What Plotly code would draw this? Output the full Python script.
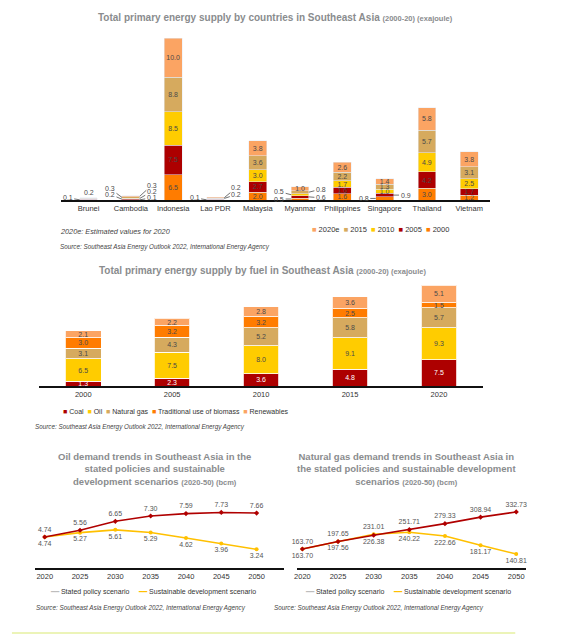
import plotly.graph_objects as go

W, H = 562, 635

# ---- data: TPES by country (exajoule), stacked 2000 -> 2020e
countries = ["Brunei", "Cambodia", "Indonesia", "Lao PDR", "Malaysia", "Myanmar",
             "Philippines", "Singapore", "Thailand", "Vietnam"]
years_c = ["2000", "2005", "2010", "2015", "2020e"]
tpes_2000 = [0.1, 0.1, 6.5, 0.1, 2.0, 0.5, 1.6, 0.8, 3.0, 1.2]
tpes_2005 = [0.1, 0.2, 7.5, 0.1, 2.7, 0.6, 1.6, 0.9, 4.2, 1.7]
tpes_2010 = [0.1, 0.2, 8.5, 0.1, 3.0, 0.5, 1.7, 1.0, 4.9, 2.5]
tpes_2015 = [0.1, 0.3, 8.8, 0.2, 3.6, 0.8, 2.2, 1.3, 5.7, 3.1]
tpes_2020e = [0.2, 0.3, 10.0, 0.2, 3.8, 1.0, 2.6, 1.4, 5.8, 3.8]

# ---- data: TPES by fuel (exajoule)
fuel_years = ["2000", "2005", "2010", "2015", "2020"]
fuels = ["Coal", "Oil", "Natural gas", "Traditional use of biomass", "Renewables"]
coal = [1.3, 2.3, 3.6, 4.8, 7.5]
oil = [6.5, 7.5, 8.0, 9.1, 9.3]
natural_gas = [3.1, 4.3, 5.2, 5.8, 5.7]
biomass = [3.0, 3.2, 3.2, 2.5, 1.5]
renewables = [2.1, 2.2, 2.8, 3.6, 5.1]

# ---- data: demand scenarios
scen_years = [2020, 2025, 2030, 2035, 2040, 2045, 2050]
oil_stated = [4.74, 5.56, 6.65, 7.30, 7.59, 7.73, 7.66]
oil_sustainable = [4.74, 5.27, 5.61, 5.29, 4.62, 3.96, 3.24]
gas_stated = [163.70, 197.65, 226.38, 251.71, 279.33, 308.94, 332.73]
gas_sustainable = [163.70, 197.56, 231.01, 240.22, 222.66, 181.17, 140.81]

C_2020, C_2015, C_2010, C_2005, C_2000 = "#fba463", "#d6aa5e", "#ffcc00", "#ad0000", "#ff7c00"
RED, YEL, GREY_LEG = "#b00000", "#ffc000", "#bdbdbd"
FONT = "Liberation Sans, Arial, sans-serif"
TFONT = "Liberation Sans, Arial, sans-serif"
TCOL = "#8a8c8e"


def px_x(p):
    return p / W


def px_y(p):
    return 1 - p / H


fig = go.Figure()

# ---------------- chart 1: by country
series_c = [tpes_2000, tpes_2005, tpes_2010, tpes_2015, tpes_2020e]
cols_c = [C_2000, C_2005, C_2010, C_2015, C_2020]
for yr, vals, col in zip(years_c, series_c, cols_c):
    fig.add_trace(go.Bar(
        x=countries, y=vals, name=yr, marker_color=col, width=0.42,
        text=[f"{v:.1f}" if v >= 0.95 else "" for v in vals],
        textposition="inside", insidetextanchor="middle", textangle=0,
        textfont=dict(size=7, color="#4a4a4a", family=FONT),
        showlegend=False, xaxis="x", yaxis="y"))

# outside labels for the thin bars: (country index, year index, side, dy px)
small_labels = [
    (0, 0, "l", -2), (0, 4, "t", 0),
    (1, 0, "r", -2), (1, 1, "l", -5), (1, 2, "r", -7), (1, 3, "l", -9), (1, 4, "r", -11),
    (3, 0, "l", -2), (3, 3, "r", -4), (3, 4, "r", -10),
    (5, 0, "l", 0), (5, 1, "r", 1), (5, 2, "l", -3), (5, 3, "r", -3),
    (7, 0, "l", 0), (7, 1, "r", 0),
]
annotations = []
for ci, yi, side, dy in small_labels:
    below = sum(s[ci] for s in series_c[:yi])
    val = series_c[yi][ci]
    if side == "t":
        top = sum(s[ci] for s in series_c)
        annotations.append(dict(x=ci, y=top, xref="x", yref="y", text=f"{val:.1f}",
                                showarrow=False, yanchor="bottom", yshift=0,
                                font=dict(size=7, color="#4a4a4a", family=FONT)))
        continue
    sgn = 1 if side == "r" else -1
    annotations.append(dict(x=ci + sgn * 0.21, y=below + val / 2, xref="x", yref="y",
                            text=f"{val:.1f}", showarrow=True, arrowhead=0,
                            arrowwidth=0.7, arrowcolor="#333", ax=sgn * 12, ay=dy,
                            font=dict(size=7, color="#4a4a4a", family=FONT)))

# ---------------- chart 2: by fuel
series_f = [coal, oil, natural_gas, biomass, renewables]
cols_f = [C_2005, C_2010, C_2015, C_2000, C_2020]
for name, vals, col in zip(fuels, series_f, cols_f):
    fig.add_trace(go.Bar(
        x=fuel_years, y=vals, name=name,
        marker=dict(color=col, line=dict(color="rgba(255,255,255,0.8)", width=1)),
        width=0.4, text=[f"{v:.1f}" for v in vals],
        textposition="inside", insidetextanchor="middle", textangle=0,
        textfont=dict(size=7, color="#ffffff" if name == "Coal" else "#4a4a4a", family=FONT),
        showlegend=False, xaxis="x2", yaxis="y2"))


# ---------------- charts 3 & 4: scenarios
def add_lines(stated, sust, xa, ya, stated_pos, sust_pos):
    fig.add_trace(go.Scatter(
        x=scen_years, y=sust, mode="lines+markers+text", line=dict(color=YEL, width=1.6),
        marker=dict(size=4, color=YEL), text=[f"{v:.2f}" for v in sust],
        textposition=sust_pos, textfont=dict(size=7, color="#555", family=FONT),
        showlegend=False, xaxis=xa, yaxis=ya, cliponaxis=False))
    fig.add_trace(go.Scatter(
        x=scen_years, y=stated, mode="lines+markers+text", line=dict(color=RED, width=1.6),
        marker=dict(size=4, color=RED, symbol="diamond"), text=[f"{v:.2f}" for v in stated],
        textposition=stated_pos, textfont=dict(size=7, color="#555", family=FONT),
        showlegend=False, xaxis=xa, yaxis=ya, cliponaxis=False))


add_lines(oil_stated, oil_sustainable, "x3", "y3",
          ["top center"] * 7, ["bottom center"] * 7)
add_lines(gas_stated, gas_sustainable, "x4", "y4",
          ["top center", "top center", "bottom center"] + ["top center"] * 4,
          ["bottom center", "bottom center", "top center"] + ["bottom center"] * 4)

# ---------------- axes
tick_font = dict(size=7.5, color="#333", family=FONT)
hidden_y = dict(visible=False, showgrid=False, zeroline=False)
line_x = dict(showline=True, linecolor="#111", linewidth=1.5, ticks="", showgrid=False,
              zeroline=False, tickfont=tick_font)

fig.update_layout(
    width=W, height=H, margin=dict(l=0, r=0, t=0, b=0),
    paper_bgcolor="white", plot_bgcolor="white", barmode="stack",
    uniformtext=dict(minsize=7, mode="show"),
    xaxis=dict(domain=[px_x(58), px_x(490)], anchor="y", **line_x),
    yaxis=dict(domain=[px_y(200), px_y(30)], range=[0, 43.4], anchor="x", **hidden_y),
    xaxis2=dict(domain=[px_x(36), px_x(483)], anchor="y2", **line_x),
    yaxis2=dict(domain=[px_y(386), px_y(275)], range=[0, 32], anchor="x2", **hidden_y),
    xaxis3=dict(domain=[px_x(32), px_x(283)], anchor="y3", range=[2018.6, 2053.95],
                tickvals=scen_years, **line_x),
    yaxis3=dict(domain=[px_y(568), px_y(495)], range=[0.96, 9.86], anchor="x3", **hidden_y),
    xaxis4=dict(domain=[px_x(296), px_x(526)], anchor="y4", range=[2019.3, 2051.4],
                tickvals=scen_years, **line_x),
    yaxis4=dict(domain=[px_y(568), px_y(495)], range=[77, 410], anchor="x4", **hidden_y),
)


def paper_text(x, y, text, size, color="#333", italic=False, xanchor="left", family=FONT):
    annotations.append(dict(x=px_x(x), y=px_y(y), xref="paper", yref="paper", text=text,
                            showarrow=False, xanchor=xanchor, yanchor="middle", align="center",
                            font=dict(size=size, color=color, family=family,
                                      style="italic" if italic else "normal")))


small = "<span style='font-size:7.5px'>{}</span>"
paper_text(274, 17, "<b>Total primary energy supply by countries in Southeast Asia "
           + small.format("(2000-20) (exajoule)") + "</b>", 10, TCOL, xanchor="center", family=TFONT)
paper_text(261, 271, "<b>Total primary energy supply by fuel in Southeast Asia "
           + small.format("(2000-20) (exajoule)") + "</b>", 10, TCOL, xanchor="center", family=TFONT)
paper_text(152, 469, "<b>Oil demand trends in Southeast Asia in the<br>stated policies and sustainable<br>"
           "development scenarios " + small.format("(2020-50) (bcm)") + "</b>", 9.5, TCOL,
           xanchor="center", family=TFONT)
paper_text(406, 469, "<b>Natural gas demand trends in Southeast Asia in<br>the stated policies and sustainable development<br>"
           "scenarios " + small.format("(2020-50) (bcm)") + "</b>", 9.5, TCOL,
           xanchor="center", family=TFONT)

src = "Source: Southeast Asia Energy Outlook 2022, International Energy Agency"
paper_text(55, 231, "2020e: Estimated values for 2020", 7.3, "#444", italic=True)
paper_text(55, 247, src, 6.3, "#444", italic=True)
paper_text(30, 427, src, 6.3, "#444", italic=True)
paper_text(31, 608, src, 6.3, "#444", italic=True)
paper_text(270, 608, src, 6.3, "#444", italic=True)

# legends as coloured glyphs
sq = "<span style='color:{}'>■</span> {}"
paper_text(309, 229, "  ".join(sq.format(c, n) for n, c in zip(years_c[::-1], cols_c[::-1])), 7.5, "#333")
paper_text(58, 412, "  ".join(sq.format(c, n) for n, c in zip(fuels, cols_f)), 7, "#333")
ln = "<span style='color:{}'>━━</span> {}"
leg_lines = "     ".join([ln.format(GREY_LEG, "Stated policy scenario"),
                         ln.format(YEL, "Sustainable development scenario")])
paper_text(45, 592, leg_lines, 7, "#333")
paper_text(302, 592, leg_lines, 7, "#333")

fig.update_layout(
    annotations=annotations,
    shapes=[dict(type="line", xref="paper", yref="paper", x0=px_x(9), x1=px_x(515),
                 y0=px_y(633), y1=px_y(633), line=dict(color="#e6f0a0", width=1.5))],
)

fig.write_html("out.html", config={"displayModeBar": False},
               post_script="document.body.style.margin='0';")
